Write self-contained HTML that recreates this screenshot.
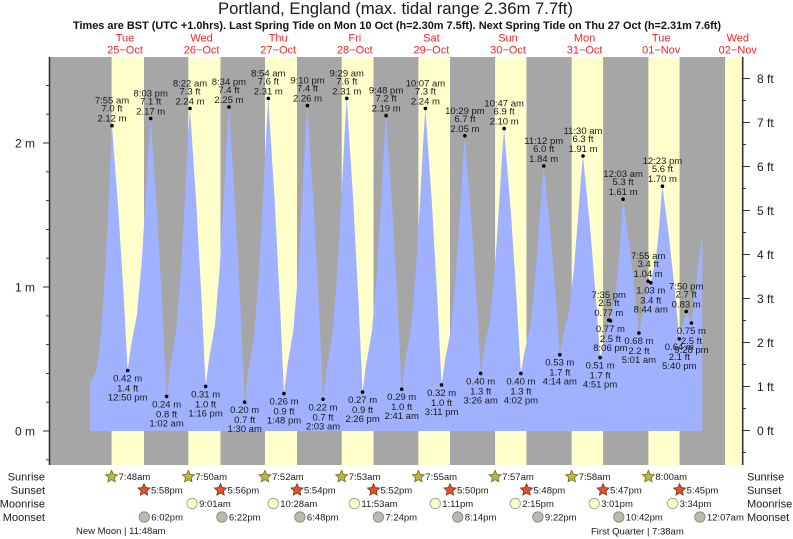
<!DOCTYPE html>
<html><head><meta charset="utf-8"><style>
html,body{margin:0;padding:0;background:#fff;}
svg{display:block;font-family:"Liberation Sans",Arial,sans-serif;}
.lb{font-size:9.5px;fill:#1a1a1a;text-anchor:middle;}
.ev{font-size:9.5px;fill:#1a1a1a;}
.rl{font-size:11px;fill:#1a1a1a;}
.ax{font-size:12px;fill:#1a1a1a;}
.dy{font-size:11px;fill:#f22;text-anchor:middle;}
</style></head><body>
<svg width="793" height="539" viewBox="0 0 793 539" xmlns="http://www.w3.org/2000/svg">
<rect width="793" height="539" fill="#fff"/>
<text x="395.5" y="14" font-size="16.7" fill="#1a1a1a" text-anchor="middle" textLength="355" lengthAdjust="spacingAndGlyphs">Portland, England (max. tidal range 2.36m 7.7ft)</text>
<text x="397" y="29" font-size="11" font-weight="bold" fill="#111" text-anchor="middle" textLength="648" lengthAdjust="spacingAndGlyphs">Times are BST (UTC +1.0hrs). Last Spring Tide on Mon 10 Oct (h=2.30m 7.5ft). Next Spring Tide on Thu 27 Oct (h=2.31m 7.6ft)</text>

<g class="dy">
<text x="125" y="41.3">Tue</text><text x="125" y="53.3">25−Oct</text>
<text x="201.6" y="41.3">Wed</text><text x="201.6" y="53.3">26−Oct</text>
<text x="278.2" y="41.3">Thu</text><text x="278.2" y="53.3">27−Oct</text>
<text x="354.8" y="41.3">Fri</text><text x="354.8" y="53.3">28−Oct</text>
<text x="431.4" y="41.3">Sat</text><text x="431.4" y="53.3">29−Oct</text>
<text x="508" y="41.3">Sun</text><text x="508" y="53.3">30−Oct</text>
<text x="584.6" y="41.3">Mon</text><text x="584.6" y="53.3">31−Oct</text>
<text x="661.2" y="41.3">Tue</text><text x="661.2" y="53.3">01−Nov</text>
<text x="737.8" y="41.3">Wed</text><text x="737.8" y="53.3">02−Nov</text>
</g>

<rect x="49.5" y="57" width="693.2" height="408" fill="#a6a6a6"/>
<g fill="#ffffcc">
<rect x="111.6" y="57" width="32.4" height="408"/>
<rect x="188.3" y="57" width="32.2" height="408"/>
<rect x="265.0" y="57" width="32.0" height="408"/>
<rect x="341.7" y="57" width="31.8" height="408"/>
<rect x="418.4" y="57" width="31.6" height="408"/>
<rect x="495.1" y="57" width="31.4" height="408"/>
<rect x="571.7" y="57" width="31.4" height="408"/>
<rect x="648.4" y="57" width="31.2" height="408"/>
<rect x="725.1" y="57" width="17.6" height="408"/>
</g>

<path fill="#a0b1ff" d="M90,431 L90,383 L91.3,380 L93.5,377 L96,372 L98.5,358 L101,332 L103.5,298 L106,256 L108.5,205 L110.3,162 L111.4,138 L112,125.7
L113.25,142.8 L118.26,208.9 L123.75,297.1 L127.66,370.5
L131.11,345.3 L136.87,315.1 L141.48,264.7 L145.62,199.1 L148.85,143.7 L150.69,118.5
L151.96,137.95 L157.05,213.0 L162.62,313.0 L166.6,396.4
L170.11,367.6 L175.96,333.0 L180.64,275.4 L184.85,200.6 L188.13,137.2 L190.0,108.4
L191.25,127.86 L196.26,202.9 L201.73,303.0 L205.64,386.4
L209.14,358.5 L214.96,324.9 L219.62,269.1 L223.81,196.4 L227.08,134.9 L228.94,107.0
L230.2,127.7 L235.24,207.4 L240.75,313.6 L244.69,402.2
L248.23,371.8 L254.14,335.4 L258.86,274.6 L263.11,195.6 L266.42,128.8 L268.31,98.4
L269.56,119.1 L274.57,198.8 L280.04,305.0 L283.95,393.6
L287.48,364.8 L293.35,330.2 L298.06,272.6 L302.29,197.8 L305.58,134.4 L307.46,105.6
L308.71,126.2 L313.69,205.5 L319.15,311.2 L323.04,399.3
L326.6,369.2 L332.53,333.1 L337.28,272.9 L341.55,194.7 L344.87,128.5 L346.77,98.4
L348.03,118.96 L353.09,198.3 L358.62,304.0 L362.57,392.1
L366.1,364.5 L371.97,331.3 L376.68,276.0 L380.91,204.1 L384.2,143.25 L386.08,115.6
L387.33,134.75 L392.31,208.6 L397.77,307.1 L401.66,389.2
L405.22,361.1 L411.15,327.4 L415.9,271.3 L420.17,198.3 L423.49,136.5 L425.39,108.4
L426.68,127.8 L431.86,202.4 L437.52,301.95 L441.56,384.9
L445.06,360.0 L450.88,330.1 L455.54,280.3 L459.73,215.5 L463.0,160.7 L464.86,135.8
L466.12,152.4 L471.18,216.6 L476.71,302.1 L480.66,373.4
L484.18,348.9 L490.04,319.5 L494.74,270.6 L498.96,206.9 L502.24,153.1 L504.12,128.6
L505.46,145.7 L510.82,211.8 L516.68,299.96 L520.87,373.4
L524.3,352.7 L530.02,327.8 L534.6,286.3 L538.72,232.4 L541.92,186.7 L543.75,166.0
L545.03,179.2 L550.17,230.2 L555.8,298.1 L559.81,354.7
L563.29,334.8 L569.09,311.0 L573.72,271.2 L577.9,219.6 L581.14,175.9 L583.0,156.0
L584.37,170.1 L589.83,224.5 L595.81,297.1 L600.08,357.6
L603.57,346.35 L606.62,329.5 L608.8,320.1 L610.45,320.8
L612.34,308.6 L615.49,294.05 L618.02,269.7 L620.29,238.1 L622.05,211.4 L623.06,199.2
L624.33,208.6 L629.4,244.7 L634.95,292.9 L638.91,333.1
L642.61,314.9 L645.86,294.2 L648.17,281.2 L650.77,282.7
L652.52,273.05 L655.43,261.5 L657.76,242.2 L659.86,217.1 L661.49,195.85 L662.42,186.2
L663.77,196.9 L669.16,238.1 L675.07,293.0 L679.28,338.8
L682.05,329.25 L684.47,318.3 L686.2,311.5 L691.41,323.0
L702.3,231.7 L702.3,431 Z"/>

<!-- axes -->
<g stroke="#333" stroke-width="1.6">
<line x1="49.5" y1="57" x2="49.5" y2="465"/>
<line x1="742.7" y1="57" x2="742.7" y2="465"/>
</g>
<g stroke="#333" stroke-width="1">
<line x1="43" y1="431" x2="49.5" y2="431"/><line x1="43" y1="287" x2="49.5" y2="287"/><line x1="43" y1="143" x2="49.5" y2="143"/>
<line x1="46" y1="459.8" x2="49.5" y2="459.8"/><line x1="46" y1="402.2" x2="49.5" y2="402.2"/><line x1="46" y1="373.4" x2="49.5" y2="373.4"/><line x1="46" y1="344.6" x2="49.5" y2="344.6"/><line x1="46" y1="315.8" x2="49.5" y2="315.8"/><line x1="46" y1="258.2" x2="49.5" y2="258.2"/><line x1="46" y1="229.4" x2="49.5" y2="229.4"/><line x1="46" y1="200.6" x2="49.5" y2="200.6"/><line x1="46" y1="171.8" x2="49.5" y2="171.8"/><line x1="46" y1="114.2" x2="49.5" y2="114.2"/><line x1="46" y1="85.4" x2="49.5" y2="85.4"/>
<line x1="742.7" y1="430.5" x2="750" y2="430.5"/><line x1="742.7" y1="386.5" x2="750" y2="386.5"/><line x1="742.7" y1="342.5" x2="750" y2="342.5"/><line x1="742.7" y1="298.5" x2="750" y2="298.5"/><line x1="742.7" y1="254.5" x2="750" y2="254.5"/><line x1="742.7" y1="210.5" x2="750" y2="210.5"/><line x1="742.7" y1="166.5" x2="750" y2="166.5"/><line x1="742.7" y1="122.5" x2="750" y2="122.5"/><line x1="742.7" y1="78.5" x2="750" y2="78.5"/>
<line x1="742.7" y1="452.5" x2="746" y2="452.5"/><line x1="742.7" y1="408.5" x2="746" y2="408.5"/><line x1="742.7" y1="364.5" x2="746" y2="364.5"/><line x1="742.7" y1="320.5" x2="746" y2="320.5"/><line x1="742.7" y1="276.5" x2="746" y2="276.5"/><line x1="742.7" y1="232.5" x2="746" y2="232.5"/><line x1="742.7" y1="188.5" x2="746" y2="188.5"/><line x1="742.7" y1="144.5" x2="746" y2="144.5"/><line x1="742.7" y1="100.5" x2="746" y2="100.5"/>
</g>
<g class="ax" text-anchor="end">
<text x="35" y="435.3">0 m</text><text x="35" y="291.3">1 m</text><text x="35" y="147.3">2 m</text>
</g>
<g class="ax">
<text x="757" y="434.8">0 ft</text><text x="757" y="390.8">1 ft</text><text x="757" y="346.8">2 ft</text><text x="757" y="302.8">3 ft</text><text x="757" y="258.8">4 ft</text><text x="757" y="214.8">5 ft</text><text x="757" y="170.8">6 ft</text><text x="757" y="126.8">7 ft</text><text x="757" y="82.8">8 ft</text>
</g>

<!-- extreme labels -->
<g class="lb">
<text x="112.0" y="103.7">7:55 am</text><text x="112.0" y="111.7">7.0 ft</text><text x="112.0" y="121.7">2.12 m</text>
<text x="150.7" y="96.5">8:03 pm</text><text x="150.7" y="104.5">7.1 ft</text><text x="150.7" y="114.5">2.17 m</text>
<text x="190.0" y="86.4">8:22 am</text><text x="190.0" y="94.4">7.3 ft</text><text x="190.0" y="104.4">2.24 m</text>
<text x="228.9" y="85">8:34 pm</text><text x="228.9" y="93">7.4 ft</text><text x="228.9" y="103">2.25 m</text>
<text x="268.3" y="76.4">8:54 am</text><text x="268.3" y="84.4">7.6 ft</text><text x="268.3" y="94.4">2.31 m</text>
<text x="307.5" y="83.6">9:10 pm</text><text x="307.5" y="91.6">7.4 ft</text><text x="307.5" y="101.6">2.26 m</text>
<text x="346.8" y="76.4">9:29 am</text><text x="346.8" y="84.4">7.6 ft</text><text x="346.8" y="94.4">2.31 m</text>
<text x="386.1" y="93.6">9:48 pm</text><text x="386.1" y="101.6">7.2 ft</text><text x="386.1" y="111.6">2.19 m</text>
<text x="425.4" y="86.4">10:07 am</text><text x="425.4" y="94.4">7.3 ft</text><text x="425.4" y="104.4">2.24 m</text>
<text x="464.9" y="113.8">10:29 pm</text><text x="464.9" y="121.8">6.7 ft</text><text x="464.9" y="131.8">2.05 m</text>
<text x="504.1" y="106.6">10:47 am</text><text x="504.1" y="114.6">6.9 ft</text><text x="504.1" y="124.6">2.10 m</text>
<text x="543.7" y="144">11:12 pm</text><text x="543.7" y="152">6.0 ft</text><text x="543.7" y="162">1.84 m</text>
<text x="583.0" y="134">11:30 am</text><text x="583.0" y="142">6.3 ft</text><text x="583.0" y="152">1.91 m</text>
<text x="608.8" y="298.1">7:35 pm</text><text x="608.8" y="306.1">2.5 ft</text><text x="608.8" y="316.1">0.77 m</text>
<text x="623.1" y="177.2">12:03 am</text><text x="623.1" y="185.2">5.3 ft</text><text x="623.1" y="195.2">1.61 m</text>
<text x="648.2" y="259.2">7:55 am</text><text x="648.2" y="267.2">3.4 ft</text><text x="648.2" y="277.2">1.04 m</text>
<text x="662.4" y="164.2">12:23 pm</text><text x="662.4" y="172.2">5.6 ft</text><text x="662.4" y="182.2">1.70 m</text>
<text x="686.2" y="289.5">7:50 pm</text><text x="686.2" y="297.5">2.7 ft</text><text x="686.2" y="307.5">0.83 m</text>

<text x="127.7" y="381.5">0.42 m</text><text x="127.7" y="391.5">1.4 ft</text><text x="127.7" y="400.5">12:50 pm</text>
<text x="166.6" y="407.4">0.24 m</text><text x="166.6" y="417.4">0.8 ft</text><text x="166.6" y="426.4">1:02 am</text>
<text x="205.6" y="397.4">0.31 m</text><text x="205.6" y="407.4">1.0 ft</text><text x="205.6" y="416.4">1:16 pm</text>
<text x="244.7" y="413.2">0.20 m</text><text x="244.7" y="423.2">0.7 ft</text><text x="244.7" y="432.2">1:30 am</text>
<text x="284.0" y="404.6">0.26 m</text><text x="284.0" y="414.6">0.9 ft</text><text x="284.0" y="423.6">1:48 pm</text>
<text x="323.0" y="410.3">0.22 m</text><text x="323.0" y="420.3">0.7 ft</text><text x="323.0" y="429.3">2:03 am</text>
<text x="362.6" y="403.1">0.27 m</text><text x="362.6" y="413.1">0.9 ft</text><text x="362.6" y="422.1">2:26 pm</text>
<text x="401.7" y="400.2">0.29 m</text><text x="401.7" y="410.2">1.0 ft</text><text x="401.7" y="419.2">2:41 am</text>
<text x="441.6" y="395.9">0.32 m</text><text x="441.6" y="405.9">1.0 ft</text><text x="441.6" y="414.9">3:11 pm</text>
<text x="480.7" y="384.4">0.40 m</text><text x="480.7" y="394.4">1.3 ft</text><text x="480.7" y="403.4">3:26 am</text>
<text x="520.9" y="384.4">0.40 m</text><text x="520.9" y="394.4">1.3 ft</text><text x="520.9" y="403.4">4:02 pm</text>
<text x="559.8" y="365.7">0.53 m</text><text x="559.8" y="375.7">1.7 ft</text><text x="559.8" y="384.7">4:14 am</text>
<text x="600.1" y="368.6">0.51 m</text><text x="600.1" y="378.6">1.7 ft</text><text x="600.1" y="387.6">4:51 pm</text>
<text x="610.4" y="331.8">0.77 m</text><text x="610.4" y="341.8">2.5 ft</text><text x="610.4" y="350.8">8:06 pm</text>
<text x="638.9" y="344.1">0.68 m</text><text x="638.9" y="354.1">2.2 ft</text><text x="638.9" y="363.1">5:01 am</text>
<text x="650.8" y="293.7">1.03 m</text><text x="650.8" y="303.7">3.4 ft</text><text x="650.8" y="312.7">8:44 am</text>
<text x="679.3" y="349.8">0.64 m</text><text x="679.3" y="359.8">2.1 ft</text><text x="679.3" y="368.8">5:40 pm</text>
<text x="691.4" y="334">0.75 m</text><text x="691.4" y="344">2.5 ft</text><text x="691.4" y="353">9:28 pm</text>
</g>
<g fill="#000">
<circle cx="112.0" cy="125.7" r="1.8"/><circle cx="127.66" cy="370.5" r="1.8"/><circle cx="150.69" cy="118.5" r="1.8"/><circle cx="166.6" cy="396.4" r="1.8"/><circle cx="190.0" cy="108.4" r="1.8"/><circle cx="205.64" cy="386.4" r="1.8"/><circle cx="228.94" cy="107.0" r="1.8"/><circle cx="244.69" cy="402.2" r="1.8"/><circle cx="268.31" cy="98.4" r="1.8"/><circle cx="283.95" cy="393.6" r="1.8"/><circle cx="307.46" cy="105.6" r="1.8"/><circle cx="323.04" cy="399.3" r="1.8"/><circle cx="346.77" cy="98.4" r="1.8"/><circle cx="362.57" cy="392.1" r="1.8"/><circle cx="386.08" cy="115.6" r="1.8"/><circle cx="401.66" cy="389.2" r="1.8"/><circle cx="425.39" cy="108.4" r="1.8"/><circle cx="441.56" cy="384.9" r="1.8"/><circle cx="464.86" cy="135.8" r="1.8"/><circle cx="480.66" cy="373.4" r="1.8"/><circle cx="504.12" cy="128.6" r="1.8"/><circle cx="520.87" cy="373.4" r="1.8"/><circle cx="543.75" cy="166.0" r="1.8"/><circle cx="559.81" cy="354.7" r="1.8"/><circle cx="583.0" cy="156.0" r="1.8"/><circle cx="600.08" cy="357.6" r="1.8"/><circle cx="608.8" cy="320.1" r="1.8"/><circle cx="610.45" cy="320.8" r="1.8"/><circle cx="623.06" cy="199.2" r="1.8"/><circle cx="638.91" cy="333.1" r="1.8"/><circle cx="648.17" cy="281.2" r="1.8"/><circle cx="650.77" cy="282.7" r="1.8"/><circle cx="662.42" cy="186.2" r="1.8"/><circle cx="679.28" cy="338.8" r="1.8"/><circle cx="686.2" cy="311.5" r="1.8"/><circle cx="691.41" cy="323.0" r="1.8"/>
</g>

<!-- bottom rows -->
<g class="rl" text-anchor="end">
<text x="45" y="480.7">Sunrise</text><text x="45" y="494">Sunset</text><text x="45" y="507.5">Moonrise</text><text x="45" y="521">Moonset</text>
</g>
<g class="rl">
<text x="747" y="480.7">Sunrise</text><text x="747" y="494">Sunset</text><text x="747" y="507.5">Moonrise</text><text x="747" y="521">Moonset</text>
</g>

<g fill="#b9b83c" stroke="#6b6a2a" stroke-width="0.8">
<polygon transform="translate(111.6,476.7)" points="0,-6.3 1.76,-2.43 6,-1.95 2.85,0.93 3.7,5.1 0,3 -3.7,5.1 -2.85,0.93 -6,-1.95 -1.76,-2.43"/>
<polygon transform="translate(188.3,476.7)" points="0,-6.3 1.76,-2.43 6,-1.95 2.85,0.93 3.7,5.1 0,3 -3.7,5.1 -2.85,0.93 -6,-1.95 -1.76,-2.43"/>
<polygon transform="translate(265.0,476.7)" points="0,-6.3 1.76,-2.43 6,-1.95 2.85,0.93 3.7,5.1 0,3 -3.7,5.1 -2.85,0.93 -6,-1.95 -1.76,-2.43"/>
<polygon transform="translate(341.7,476.7)" points="0,-6.3 1.76,-2.43 6,-1.95 2.85,0.93 3.7,5.1 0,3 -3.7,5.1 -2.85,0.93 -6,-1.95 -1.76,-2.43"/>
<polygon transform="translate(418.4,476.7)" points="0,-6.3 1.76,-2.43 6,-1.95 2.85,0.93 3.7,5.1 0,3 -3.7,5.1 -2.85,0.93 -6,-1.95 -1.76,-2.43"/>
<polygon transform="translate(495.1,476.7)" points="0,-6.3 1.76,-2.43 6,-1.95 2.85,0.93 3.7,5.1 0,3 -3.7,5.1 -2.85,0.93 -6,-1.95 -1.76,-2.43"/>
<polygon transform="translate(571.7,476.7)" points="0,-6.3 1.76,-2.43 6,-1.95 2.85,0.93 3.7,5.1 0,3 -3.7,5.1 -2.85,0.93 -6,-1.95 -1.76,-2.43"/>
<polygon transform="translate(648.4,476.7)" points="0,-6.3 1.76,-2.43 6,-1.95 2.85,0.93 3.7,5.1 0,3 -3.7,5.1 -2.85,0.93 -6,-1.95 -1.76,-2.43"/>
</g>
<g fill="#e2522a" stroke="#7a3320" stroke-width="0.8">
<polygon transform="translate(144.0,490)" points="0,-6.3 1.76,-2.43 6,-1.95 2.85,0.93 3.7,5.1 0,3 -3.7,5.1 -2.85,0.93 -6,-1.95 -1.76,-2.43"/>
<polygon transform="translate(220.5,490)" points="0,-6.3 1.76,-2.43 6,-1.95 2.85,0.93 3.7,5.1 0,3 -3.7,5.1 -2.85,0.93 -6,-1.95 -1.76,-2.43"/>
<polygon transform="translate(297.0,490)" points="0,-6.3 1.76,-2.43 6,-1.95 2.85,0.93 3.7,5.1 0,3 -3.7,5.1 -2.85,0.93 -6,-1.95 -1.76,-2.43"/>
<polygon transform="translate(373.5,490)" points="0,-6.3 1.76,-2.43 6,-1.95 2.85,0.93 3.7,5.1 0,3 -3.7,5.1 -2.85,0.93 -6,-1.95 -1.76,-2.43"/>
<polygon transform="translate(450.0,490)" points="0,-6.3 1.76,-2.43 6,-1.95 2.85,0.93 3.7,5.1 0,3 -3.7,5.1 -2.85,0.93 -6,-1.95 -1.76,-2.43"/>
<polygon transform="translate(526.5,490)" points="0,-6.3 1.76,-2.43 6,-1.95 2.85,0.93 3.7,5.1 0,3 -3.7,5.1 -2.85,0.93 -6,-1.95 -1.76,-2.43"/>
<polygon transform="translate(603.1,490)" points="0,-6.3 1.76,-2.43 6,-1.95 2.85,0.93 3.7,5.1 0,3 -3.7,5.1 -2.85,0.93 -6,-1.95 -1.76,-2.43"/>
<polygon transform="translate(679.6,490)" points="0,-6.3 1.76,-2.43 6,-1.95 2.85,0.93 3.7,5.1 0,3 -3.7,5.1 -2.85,0.93 -6,-1.95 -1.76,-2.43"/>
</g>
<g fill="#ffffc8" stroke="#9a9a88" stroke-width="0.8">
<circle cx="192.1" cy="503.5" r="5.2"/><circle cx="273.3" cy="503.5" r="5.2"/><circle cx="354.4" cy="503.5" r="5.2"/><circle cx="435.2" cy="503.5" r="5.2"/><circle cx="515.2" cy="503.5" r="5.2"/><circle cx="594.2" cy="503.5" r="5.2"/><circle cx="672.6" cy="503.5" r="5.2"/>
</g>
<g fill="#bdb9ae" stroke="#85827a" stroke-width="0.8">
<circle cx="144.3" cy="517" r="5.2"/><circle cx="221.9" cy="517" r="5.2"/><circle cx="299.9" cy="517" r="5.2"/><circle cx="378.4" cy="517" r="5.2"/><circle cx="457.7" cy="517" r="5.2"/><circle cx="537.9" cy="517" r="5.2"/><circle cx="618.8" cy="517" r="5.2"/><circle cx="699.9" cy="517" r="5.2"/>
</g>
<g class="ev">
<text x="118.6" y="480.1">7:48am</text><text x="195.3" y="480.1">7:50am</text><text x="272.0" y="480.1">7:52am</text><text x="348.7" y="480.1">7:53am</text><text x="425.4" y="480.1">7:55am</text><text x="502.1" y="480.1">7:57am</text><text x="578.7" y="480.1">7:58am</text><text x="655.4" y="480.1">8:00am</text>
<text x="151.0" y="493.4">5:58pm</text><text x="227.5" y="493.4">5:56pm</text><text x="304.0" y="493.4">5:54pm</text><text x="380.5" y="493.4">5:52pm</text><text x="457.0" y="493.4">5:50pm</text><text x="533.5" y="493.4">5:48pm</text><text x="610.1" y="493.4">5:47pm</text><text x="686.6" y="493.4">5:45pm</text>
<text x="199.1" y="506.9">9:01am</text><text x="280.3" y="506.9">10:28am</text><text x="361.4" y="506.9">11:53am</text><text x="442.2" y="506.9">1:11pm</text><text x="522.2" y="506.9">2:15pm</text><text x="601.2" y="506.9">3:01pm</text><text x="679.6" y="506.9">3:34pm</text>
<text x="151.3" y="520.4">6:02pm</text><text x="228.9" y="520.4">6:22pm</text><text x="306.9" y="520.4">6:48pm</text><text x="385.4" y="520.4">7:24pm</text><text x="464.7" y="520.4">8:14pm</text><text x="544.9" y="520.4">9:22pm</text><text x="625.8" y="520.4">10:42pm</text><text x="706.9" y="520.4">12:07am</text>
<text x="76" y="534">New Moon | 11:48am</text>
<text x="591" y="534.5">First Quarter | 7:38am</text>
</g>
</svg>
</body></html>
